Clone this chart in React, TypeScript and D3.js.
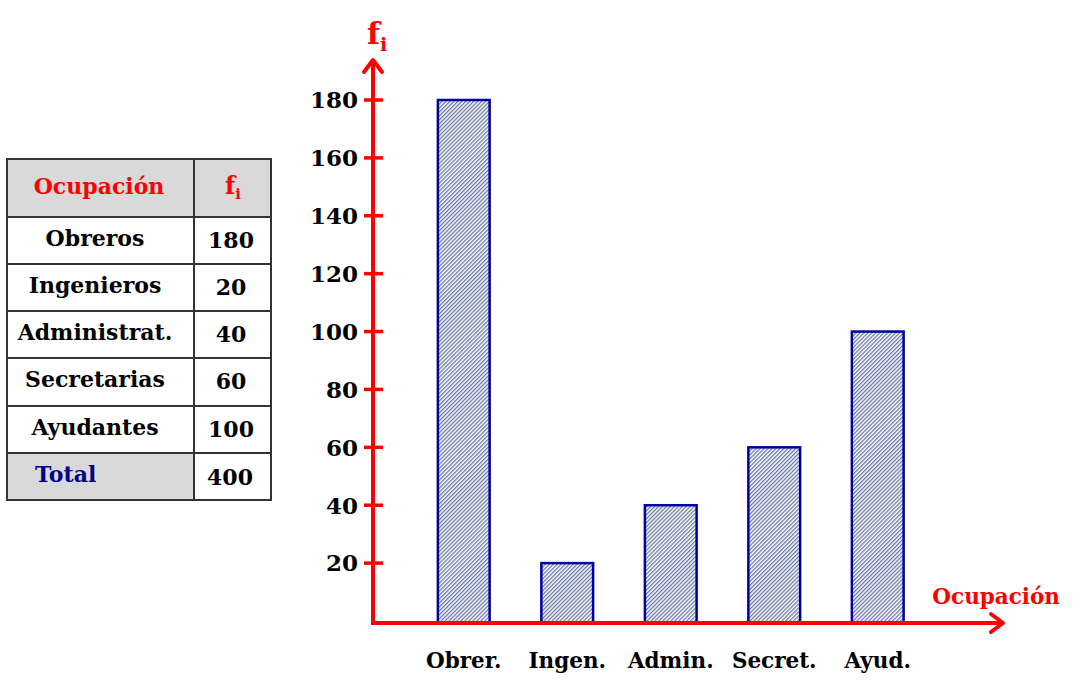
import React, { useEffect, useRef } from 'react';
import * as d3 from 'd3';

const categories = ['Obrer.', 'Ingen.', 'Admin.', 'Secret.', 'Ayud.'];
const values = [180, 20, 40, 60, 100];
const yTicks = [20, 40, 60, 80, 100, 120, 140, 160, 180];

const tableNames = ['Obreros', 'Ingenieros', 'Administrat.', 'Secretarias', 'Ayudantes'];
const tableValues = [180, 20, 40, 60, 100];
const totalValue = 400;

const FONT = '"DejaVu Serif", serif';

export default function App() {
  const svgRef = useRef<SVGSVGElement>(null);

  useEffect(() => {
    if (!svgRef.current) return;
    const svg = d3.select(svgRef.current);
    svg.selectAll('*').remove();

    const defs = svg.append('defs');
    const pat = defs
      .append('pattern')
      .attr('id', 'hatch')
      .attr('patternUnits', 'userSpaceOnUse')
      .attr('width', 2.8)
      .attr('height', 2.8)
      .attr('patternTransform', 'rotate(45)');
    pat.append('rect').attr('width', 2.8).attr('height', 2.8).attr('fill', '#ffffff');
    pat.append('rect').attr('width', 1.3).attr('height', 2.8).attr('fill', '#6677a6');

    const axisX = 373;
    const axisY = 623;

    const x = d3
      .scaleBand<string>()
      .domain(categories)
      .range([412, 929.5])
      .paddingInner(0.5)
      .paddingOuter(0.25);
    const y = d3.scaleLinear().domain([0, 180]).range([621, 100]);

    // bars
    svg
      .append('g')
      .selectAll('rect')
      .data(values)
      .enter()
      .append('rect')
      .attr('x', (d, i) => x(categories[i])!)
      .attr('y', (d) => y(d))
      .attr('width', x.bandwidth())
      .attr('height', (d) => axisY - y(d))
      .attr('fill', 'url(#hatch)')
      .attr('stroke', '#0000a0')
      .attr('stroke-width', 2.5);

    const red = '#ff0000';

    // y axis
    svg
      .append('line')
      .attr('x1', axisX)
      .attr('y1', axisY + 2)
      .attr('x2', axisX)
      .attr('y2', 60)
      .attr('stroke', red)
      .attr('stroke-width', 4);
    svg
      .append('path')
      .attr('d', `M${axisX - 9},${72} L${axisX},${60} L${axisX + 9},${72}`)
      .attr('fill', 'none')
      .attr('stroke', red)
      .attr('stroke-width', 4)
      .attr('stroke-linecap', 'round')
      .attr('stroke-linejoin', 'round');

    // x axis
    svg
      .append('line')
      .attr('x1', axisX - 2)
      .attr('y1', axisY)
      .attr('x2', 1003)
      .attr('y2', axisY)
      .attr('stroke', red)
      .attr('stroke-width', 4);
    svg
      .append('path')
      .attr('d', `M${991},${axisY - 9} L${1003},${axisY} L${991},${axisY + 9}`)
      .attr('fill', 'none')
      .attr('stroke', red)
      .attr('stroke-width', 4)
      .attr('stroke-linecap', 'round')
      .attr('stroke-linejoin', 'round');

    // y ticks
    const ticks = svg.append('g').selectAll('g').data(yTicks).enter().append('g');
    ticks
      .append('line')
      .attr('x1', axisX - 9)
      .attr('x2', axisX + 10)
      .attr('y1', (d) => y(d))
      .attr('y2', (d) => y(d))
      .attr('stroke', red)
      .attr('stroke-width', 3.5);
    ticks
      .append('text')
      .attr('x', 358)
      .attr('y', (d) => y(d))
      .attr('dy', '0.36em')
      .attr('text-anchor', 'end')
      .style('font-family', FONT)
      .style('font-weight', 'bold')
      .style('font-size', '23px')
      .attr('fill', '#000')
      .text((d) => d);

    // category labels
    svg
      .append('g')
      .selectAll('text')
      .data(categories)
      .enter()
      .append('text')
      .attr('x', (d) => x(d)! + x.bandwidth() / 2)
      .attr('y', 668)
      .attr('text-anchor', 'middle')
      .style('font-family', FONT)
      .style('font-weight', 'bold')
      .style('font-size', '21.5px')
      .attr('fill', '#000')
      .text((d) => d);

    // axis titles
    const fi = svg
      .append('text')
      .attr('x', 367)
      .attr('y', 44)
      .style('font-family', FONT)
      .style('font-weight', 'bold')
      .style('font-size', '30px')
      .attr('fill', red);
    fi.append('tspan').text('f');
    fi.append('tspan').attr('dy', 7).style('font-size', '19px').text('i');

    svg
      .append('text')
      .attr('x', 1060)
      .attr('y', 604)
      .attr('text-anchor', 'end')
      .style('font-family', FONT)
      .style('font-weight', 'bold')
      .style('font-size', '21.5px')
      .attr('fill', red)
      .text('Ocupación');

    // table
    const colX = [7, 194, 271];
    const rowY = [159, 217, 264, 311, 358, 406, 453, 500];
    const tbl = svg.append('g');
    // gray backgrounds
    tbl
      .append('rect')
      .attr('x', colX[0])
      .attr('y', rowY[0])
      .attr('width', colX[2] - colX[0])
      .attr('height', rowY[1] - rowY[0])
      .attr('fill', '#d9d9d9');
    tbl
      .append('rect')
      .attr('x', colX[0])
      .attr('y', rowY[6])
      .attr('width', colX[1] - colX[0])
      .attr('height', rowY[7] - rowY[6])
      .attr('fill', '#d9d9d9');
    // grid lines
    rowY.forEach((ry) => {
      tbl
        .append('line')
        .attr('x1', colX[0] - 1)
        .attr('x2', colX[2] + 1)
        .attr('y1', ry)
        .attr('y2', ry)
        .attr('stroke', '#333')
        .attr('stroke-width', 2);
    });
    colX.forEach((cx) => {
      tbl
        .append('line')
        .attr('x1', cx)
        .attr('x2', cx)
        .attr('y1', rowY[0] - 1)
        .attr('y2', rowY[7] + 1)
        .attr('stroke', '#333')
        .attr('stroke-width', 2);
    });

    const cellText = (
      tx: number,
      ty: number,
      txt: string,
      color: string,
      anchor = 'middle'
    ) =>
      tbl
        .append('text')
        .attr('x', tx)
        .attr('y', ty)
        .attr('text-anchor', anchor)
        .style('font-family', FONT)
        .style('font-weight', 'bold')
        .style('font-size', '22px')
        .attr('fill', color)
        .text(txt);

    cellText(99, 194, 'Ocupación', red);
    const hf = tbl
      .append('text')
      .attr('x', 225)
      .attr('y', 194)
      .style('font-family', FONT)
      .style('font-weight', 'bold')
      .style('font-size', '24px')
      .attr('fill', red);
    hf.append('tspan').text('f');
    hf.append('tspan').attr('dy', 5).style('font-size', '15px').text('i');

    tableNames.forEach((n, i) => {
      const cy = (rowY[i + 1] + rowY[i + 2]) / 2;
      cellText(95, cy + 5, n, '#000');
      cellText(231, cy + 7, String(tableValues[i]), '#000');
    });
    cellText(35, 482, 'Total', '#00008b', 'start');
    cellText(230, 485, String(totalValue), '#000');
  }, []);

  return (
    <svg
      ref={svgRef}
      width={1080}
      height={690}
      style={{ position: 'absolute', left: 0, top: 0, background: '#fff' }}
    ></svg>
  );
}
